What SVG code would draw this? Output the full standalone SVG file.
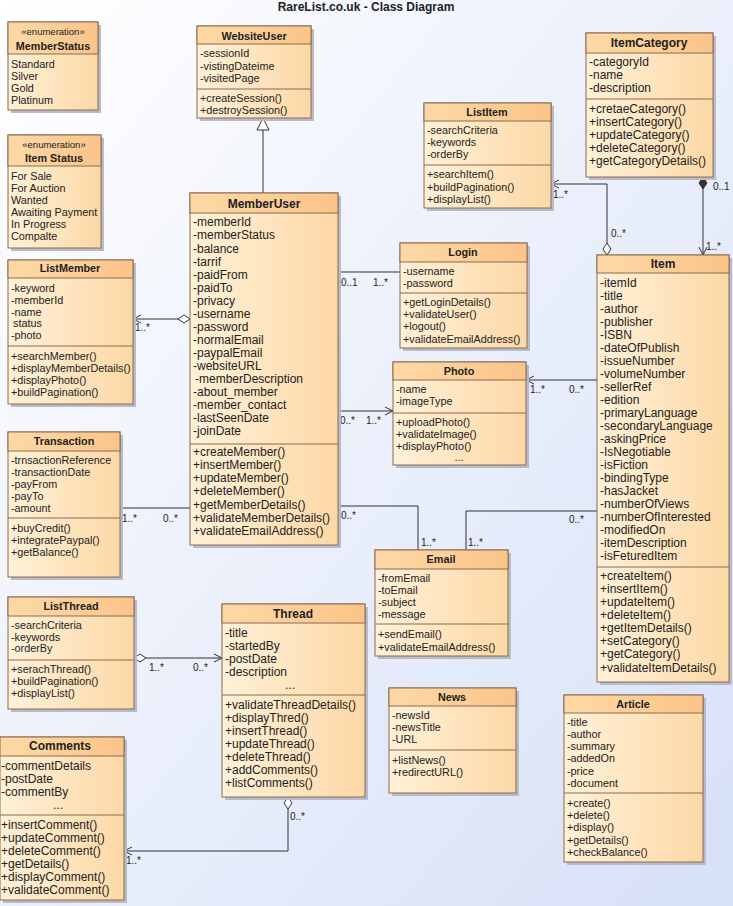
<svg xmlns="http://www.w3.org/2000/svg" width="733" height="906" viewBox="0 0 733 906">
<defs>
<linearGradient id="bg" x1="0" y1="0" x2="1" y2="1"><stop offset="0" stop-color="#ffffff"/><stop offset="1" stop-color="#d6e0f7"/></linearGradient>
<linearGradient id="body" x1="0" y1="0" x2="1" y2="0"><stop offset="0" stop-color="#fff1d8"/><stop offset="1" stop-color="#fdd8a6"/></linearGradient>
<linearGradient id="hdr" x1="0" y1="0" x2="1" y2="0"><stop offset="0" stop-color="#fdd9a6"/><stop offset="1" stop-color="#fbc489"/></linearGradient>
<marker id="arr" markerWidth="10" markerHeight="10" refX="9" refY="5" orient="auto" markerUnits="userSpaceOnUse"><path d="M1,1 L9,5 L1,9" fill="none" stroke="#333" stroke-width="1"/></marker>
<marker id="tri" markerWidth="14" markerHeight="14" refX="13" refY="7" orient="auto" markerUnits="userSpaceOnUse"><path d="M1,1 L13,7 L1,13 Z" fill="#fff" stroke="#333"/></marker>
<marker id="dia" markerWidth="14" markerHeight="10" refX="1" refY="5" orient="auto" markerUnits="userSpaceOnUse"><path d="M1,5 L7,1 L13,5 L7,9 Z" fill="#fff" stroke="#333"/></marker>
<marker id="fdia" markerWidth="14" markerHeight="10" refX="1" refY="5" orient="auto" markerUnits="userSpaceOnUse"><path d="M1,5 L7,1 L13,5 L7,9 Z" fill="#333" stroke="#333"/></marker>
</defs>
<style>
text{font-family:"Liberation Sans",Arial,sans-serif;fill:#222}
.s{font-size:10.8px}.b{font-size:12px}
.t{font-weight:bold;text-anchor:middle}
.c{text-anchor:middle}
.sh{fill:#b8bcc8}
.bx{fill:url(#body);stroke:#8a6a50;stroke-width:1}
.hd{fill:url(#hdr);stroke:#8a6a50;stroke-width:1}
.ln{stroke:#8a6a50;stroke-width:1}
.con path{fill:none;stroke:#333;stroke-width:1}
.lb{font-size:10px}
</style>
<rect width="733" height="906" fill="url(#bg)"/>
<text x="366" y="11" class="t" style="font-size:12px">RareList.co.uk - Class Diagram</text>

<g class="con">
<path d="M263,193 V118" marker-end="url(#tri)"/>
<path d="M190,319 H133" marker-start="url(#dia)" marker-end="url(#arr)"/>
<path d="M338,272 H400"/>
<path d="M338,411 H393" marker-end="url(#arr)"/>
<path d="M597,380 H526" marker-end="url(#arr)"/>
<path d="M607,255 V184 H551" marker-start="url(#dia)" marker-end="url(#arr)"/>
<path d="M703,177 V255" marker-start="url(#fdia)" marker-end="url(#arr)"/>
<path d="M338,506 H418 V550"/>
<path d="M597,511 H466 V550"/>
<path d="M120,508 H190"/>
<path d="M134,658 H222" marker-start="url(#dia)" marker-end="url(#arr)"/>
<path d="M288,797 V851 H124" marker-start="url(#dia)" marker-end="url(#arr)"/>
</g>
<g class="lb">
<text x="135" y="331" class="lb">1..*</text>
<text x="341" y="286" class="lb">0..1</text><text x="373" y="286" class="lb">1..*</text>
<text x="340" y="424" class="lb">0..*</text><text x="366" y="424" class="lb">1..*</text>
<text x="530" y="393" class="lb">1..*</text><text x="569" y="393" class="lb">0..*</text>
<text x="553" y="198" class="lb">1..*</text><text x="611" y="237" class="lb">0..*</text>
<text x="713" y="190" class="lb">0..1</text><text x="706" y="250" class="lb">1..*</text>
<text x="341" y="519" class="lb">0..*</text><text x="421" y="546" class="lb">1..*</text>
<text x="569" y="523" class="lb">0..*</text><text x="468" y="546" class="lb">1..*</text>
<text x="122" y="522" class="lb">1..*</text><text x="163" y="522" class="lb">0..*</text>
<text x="149" y="671" class="lb">1..*</text><text x="193" y="671" class="lb">0..*</text>
<text x="290" y="820" class="lb">0..*</text><text x="126" y="864" class="lb">1..*</text>
</g>

<g id="MemberStatus" class="s">
<rect x="11" y="25" width="90" height="88" class="sh"/><rect x="8" y="22" width="90" height="88" class="bx"/>
<rect x="8" y="22" width="90" height="32" class="hd"/>
<text x="53" y="35" class="c" style="font-size:9.5px">«enumeration»</text><text x="53" y="50" class="t">MemberStatus</text>
<text x="11" y="68">Standard</text><text x="11" y="80">Silver</text><text x="11" y="92">Gold</text><text x="11" y="104">Platinum</text>
</g>

<g id="ItemStatus" class="s">
<rect x="11" y="138" width="93" height="113" class="sh"/><rect x="8" y="135" width="93" height="113" class="bx"/>
<rect x="8" y="135" width="93" height="31" class="hd"/>
<text x="54" y="148" class="c" style="font-size:9.5px">«enumeration»</text><text x="54" y="162" class="t">Item Status</text>
<text x="11" y="180">For Sale</text><text x="11" y="192">For Auction</text><text x="11" y="204">Wanted</text><text x="11" y="216">Awaiting Payment</text><text x="11" y="228">In Progress</text><text x="11" y="240">Compalte</text>
</g>

<g id="WebsiteUser" class="s">
<rect x="200" y="29" width="114" height="92" class="sh"/><rect x="197" y="26" width="114" height="92" class="bx"/>
<rect x="197" y="26" width="114" height="18" class="hd"/>
<text x="254" y="40" class="t">WebsiteUser</text>
<text x="200" y="57">-sessionId</text><text x="200" y="70">-vistingDateime</text><text x="200" y="82">-visitedPage</text>
<line x1="197" y1="89" x2="311" y2="89" class="ln"/>
<text x="200" y="102">+createSession()</text><text x="200" y="114">+destroySession()</text>
</g>

<g id="MemberUser" class="b">
<rect x="193" y="196" width="148" height="352" class="sh"/><rect x="190" y="193" width="148" height="352" class="bx"/>
<rect x="190" y="193" width="148" height="20" class="hd"/>
<text x="264" y="208" class="t">MemberUser</text>
<text x="193" y="226">-memberId</text><text x="193" y="239">-memberStatus</text><text x="193" y="253">-balance</text><text x="193" y="266">-tarrif</text><text x="193" y="279">-paidFrom</text><text x="193" y="292">-paidTo</text><text x="193" y="305">-privacy</text><text x="193" y="318">-username</text><text x="193" y="331">-password</text><text x="193" y="344">-normalEmail</text><text x="193" y="357">-paypalEmail</text><text x="193" y="370">-websiteURL</text><text x="195" y="383">-memberDescription</text><text x="193" y="396">-about_member</text><text x="193" y="409">-member_contact</text><text x="193" y="422">-lastSeenDate</text><text x="193" y="435">-joinDate</text>
<line x1="190" y1="444" x2="338" y2="444" class="ln"/>
<text x="193" y="456">+createMember()</text><text x="193" y="469">+insertMember()</text><text x="193" y="482">+updateMember()</text><text x="193" y="495">+deleteMember()</text><text x="193" y="509">+getMemberDetails()</text><text x="193" y="522">+validateMemberDetails()</text><text x="193" y="535">+validateEmailAddress()</text>
</g>

<g id="ListMember" class="s">
<rect x="11" y="263" width="125" height="144" class="sh"/><rect x="8" y="260" width="125" height="144" class="bx"/>
<rect x="8" y="260" width="125" height="18" class="hd"/>
<text x="70" y="272" class="t">ListMember</text>
<text x="11" y="292">-keyword</text><text x="11" y="304">-memberId</text><text x="11" y="316">-name</text><text x="13" y="327">status</text><text x="11" y="339">-photo</text>
<line x1="8" y1="346" x2="133" y2="346" class="ln"/>
<text x="11" y="360">+searchMember()</text><text x="11" y="372">+displayMemberDetails()</text><text x="11" y="384">+displayPhoto()</text><text x="11" y="396">+buildPagination()</text>
</g>

<g id="Login" class="s">
<rect x="403" y="246" width="127" height="105" class="sh"/><rect x="400" y="243" width="127" height="105" class="bx"/>
<rect x="400" y="243" width="127" height="19" class="hd"/>
<text x="463" y="256" class="t">Login</text>
<text x="403" y="275">-username</text><text x="403" y="287">-password</text>
<line x1="400" y1="293" x2="527" y2="293" class="ln"/>
<text x="403" y="306">+getLoginDetails()</text><text x="403" y="318">+validateUser()</text><text x="403" y="330">+logout()</text><text x="403" y="343">+validateEmailAddress()</text>
</g>

<g id="Photo" class="s">
<rect x="396" y="365" width="133" height="103" class="sh"/><rect x="393" y="362" width="133" height="103" class="bx"/>
<rect x="393" y="362" width="133" height="18" class="hd"/>
<text x="459" y="375" class="t">Photo</text>
<text x="396" y="393">-name</text><text x="396" y="405">-imageType</text>
<line x1="393" y1="413" x2="526" y2="413" class="ln"/>
<text x="396" y="426">+uploadPhoto()</text><text x="396" y="438">+validateImage()</text><text x="396" y="450">+displayPhoto()</text><text x="459" y="461" class="c">...</text>
</g>

<g id="ListItem" class="s">
<rect x="427" y="106" width="127" height="105" class="sh"/><rect x="424" y="103" width="127" height="105" class="bx"/>
<rect x="424" y="103" width="127" height="18" class="hd"/>
<text x="487" y="116" class="t">ListItem</text>
<text x="427" y="134">-searchCriteria</text><text x="427" y="146">-keywords</text><text x="427" y="158">-orderBy</text>
<line x1="424" y1="165" x2="551" y2="165" class="ln"/>
<text x="427" y="178">+searchItem()</text><text x="427" y="191">+buildPagination()</text><text x="427" y="203">+displayList()</text>
</g>

<g id="ItemCategory" class="b">
<rect x="589" y="36" width="127" height="144" class="sh"/><rect x="586" y="33" width="127" height="144" class="bx"/>
<rect x="586" y="33" width="127" height="20" class="hd"/>
<text x="649" y="47" class="t">ItemCategory</text>
<text x="589" y="66">-categoryId</text><text x="589" y="79">-name</text><text x="589" y="92">-description</text>
<line x1="586" y1="99" x2="713" y2="99" class="ln"/>
<text x="589" y="113">+cretaeCategory()</text><text x="589" y="126">+insertCategory()</text><text x="589" y="139">+updateCategory()</text><text x="589" y="152">+deleteCategory()</text><text x="589" y="165">+getCategoryDetails()</text>
</g>

<g id="Item" class="b">
<rect x="600" y="258" width="132" height="427" class="sh"/><rect x="597" y="255" width="132" height="427" class="bx"/>
<rect x="597" y="255" width="132" height="18" class="hd"/>
<text x="663" y="268" class="t">Item</text>
<text x="600" y="287">-itemId</text><text x="600" y="300">-title</text><text x="600" y="313">-author</text><text x="600" y="326">-publisher</text><text x="600" y="339">-ISBN</text><text x="600" y="352">-dateOfPublish</text><text x="600" y="365">-issueNumber</text><text x="600" y="378">-volumeNumber</text><text x="600" y="391">-sellerRef</text><text x="600" y="404">-edition</text><text x="600" y="417">-primaryLanguage</text><text x="600" y="430">-secondaryLanguage</text><text x="600" y="443">-askingPrice</text><text x="600" y="456">-IsNegotiable</text><text x="600" y="469">-isFiction</text><text x="600" y="482">-bindingType</text><text x="600" y="495">-hasJacket</text><text x="600" y="508">-numberOfViews</text><text x="600" y="521">-numberOfInterested</text><text x="600" y="534">-modifiedOn</text><text x="600" y="547">-itemDescription</text><text x="600" y="560">-isFeturedItem</text>
<line x1="597" y1="567" x2="729" y2="567" class="ln"/>
<text x="600" y="580">+createItem()</text><text x="600" y="593">+insertItem()</text><text x="600" y="606">+updateItem()</text><text x="600" y="619">+deleteItem()</text><text x="600" y="632">+getItemDetails()</text><text x="600" y="645">+setCategory()</text><text x="600" y="658">+getCategory()</text><text x="600" y="672">+validateItemDetails()</text>
</g>

<g id="Email" class="s">
<rect x="378" y="553" width="133" height="106" class="sh"/><rect x="375" y="550" width="133" height="106" class="bx"/>
<rect x="375" y="550" width="133" height="19" class="hd"/>
<text x="441" y="563" class="t">Email</text>
<text x="378" y="582">-fromEmail</text><text x="378" y="594">-toEmail</text><text x="378" y="606">-subject</text><text x="378" y="618">-message</text>
<line x1="375" y1="624" x2="508" y2="624" class="ln"/>
<text x="378" y="638">+sendEmail()</text><text x="378" y="651">+validateEmailAddress()</text>
</g>

<g id="Transaction" class="s">
<rect x="11" y="435" width="112" height="145" class="sh"/><rect x="8" y="432" width="112" height="145" class="bx"/>
<rect x="8" y="432" width="112" height="19" class="hd"/>
<text x="64" y="445" class="t">Transaction</text>
<text x="11" y="464">-trnsactionReference</text><text x="11" y="476">-transactionDate</text><text x="11" y="488">-payFrom</text><text x="11" y="500">-payTo</text><text x="11" y="512">-amount</text>
<line x1="8" y1="518" x2="120" y2="518" class="ln"/>
<text x="11" y="532">+buyCredit()</text><text x="11" y="544">+integratePaypal()</text><text x="11" y="556">+getBalance()</text>
</g>

<g id="ListThread" class="s">
<rect x="11" y="600" width="126" height="112" class="sh"/><rect x="8" y="597" width="126" height="112" class="bx"/>
<rect x="8" y="597" width="126" height="19" class="hd"/>
<text x="71" y="610" class="t">ListThread</text>
<text x="11" y="629">-searchCriteria</text><text x="11" y="641">-keywords</text><text x="11" y="652">-orderBy</text>
<line x1="8" y1="660" x2="134" y2="660" class="ln"/>
<text x="11" y="673">+serachThread()</text><text x="11" y="685">+buildPagination()</text><text x="11" y="697">+displayList()</text>
</g>

<g id="Thread" class="b">
<rect x="225" y="607" width="143" height="193" class="sh"/><rect x="222" y="604" width="143" height="193" class="bx"/>
<rect x="222" y="604" width="143" height="19" class="hd"/>
<text x="293" y="618" class="t">Thread</text>
<text x="225" y="637">-title</text><text x="225" y="650">-startedBy</text><text x="225" y="663">-postDate</text><text x="225" y="676">-description</text><text x="290" y="689" class="c">...</text>
<line x1="222" y1="695" x2="365" y2="695" class="ln"/>
<text x="225" y="709">+validateThreadDetails()</text><text x="225" y="722">+displayThred()</text><text x="225" y="735">+insertThread()</text><text x="225" y="748">+updateThread()</text><text x="225" y="761">+deleteThread()</text><text x="225" y="774">+addComments()</text><text x="225" y="787">+listComments()</text>
</g>

<g id="Comments" class="b">
<rect x="3" y="740" width="124" height="163" class="sh"/><rect x="0" y="737" width="124" height="163" class="bx"/>
<rect x="0" y="737" width="124" height="19" class="hd"/>
<text x="60" y="750" class="t">Comments</text>
<text x="1" y="770">-commentDetails</text><text x="1" y="783">-postDate</text><text x="1" y="796">-commentBy</text><text x="58" y="809" class="c">...</text>
<line x1="0" y1="815" x2="124" y2="815" class="ln"/>
<text x="1" y="829">+insertComment()</text><text x="1" y="842">+updateComment()</text><text x="1" y="855">+deleteComment()</text><text x="1" y="868">+getDetails()</text><text x="1" y="881">+displayComment()</text><text x="1" y="894">+validateComment()</text>
</g>

<g id="News" class="s">
<rect x="392" y="691" width="127" height="105" class="sh"/><rect x="389" y="688" width="127" height="105" class="bx"/>
<rect x="389" y="688" width="127" height="18" class="hd"/>
<text x="452" y="701" class="t">News</text>
<text x="392" y="719">-newsId</text><text x="392" y="731">-newsTitle</text><text x="392" y="743">-URL</text>
<line x1="389" y1="750" x2="516" y2="750" class="ln"/>
<text x="392" y="764">+listNews()</text><text x="392" y="776">+redirectURL()</text>
</g>

<g id="Article" class="s">
<rect x="567" y="698" width="139" height="167" class="sh"/><rect x="564" y="695" width="139" height="167" class="bx"/>
<rect x="564" y="695" width="139" height="18" class="hd"/>
<text x="633" y="708" class="t">Article</text>
<text x="567" y="726">-title</text><text x="567" y="738">-author</text><text x="567" y="750">-summary</text><text x="567" y="762">-addedOn</text><text x="567" y="775">-price</text><text x="567" y="787">-document</text>
<line x1="564" y1="793" x2="703" y2="793" class="ln"/>
<text x="567" y="807">+create()</text><text x="567" y="819">+delete()</text><text x="567" y="831">+display()</text><text x="567" y="844">+getDetails()</text><text x="567" y="856">+checkBalance()</text>
</g>
</svg>
